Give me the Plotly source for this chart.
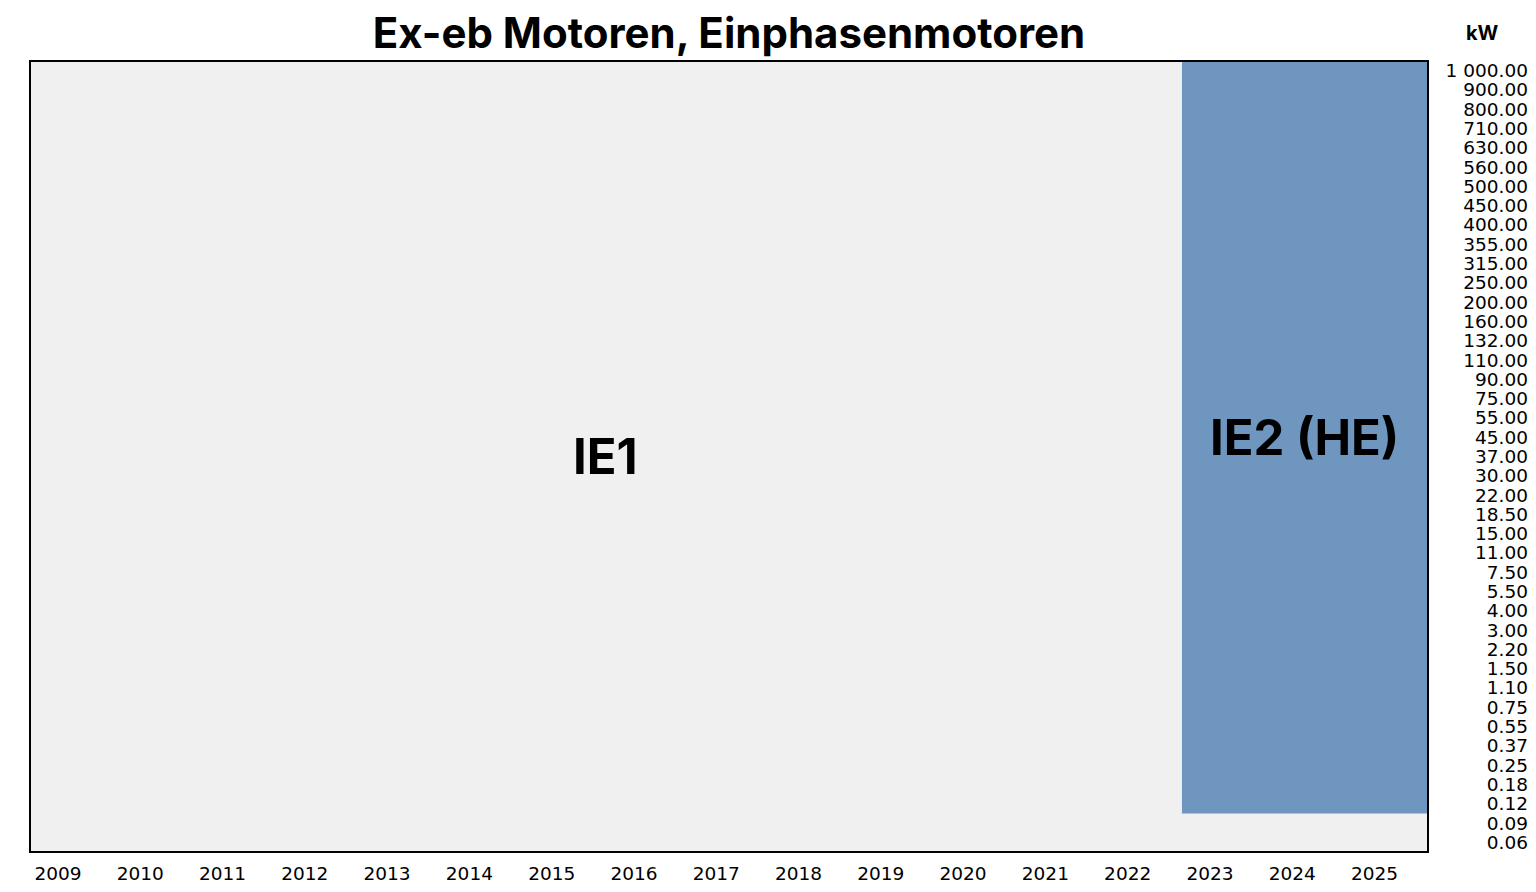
import plotly.graph_objects as go

# kW power classes shown on the right axis (bottom to top)
kw_classes = [0.06, 0.09, 0.12, 0.18, 0.25, 0.37, 0.55, 0.75, 1.10, 1.50,
              2.20, 3.00, 4.00, 5.50, 7.50, 11.00, 15.00, 18.50, 22.00, 30.00,
              37.00, 45.00, 55.00, 75.00, 90.00, 110.00, 132.00, 160.00, 200.00, 250.00,
              315.00, 355.00, 400.00, 450.00, 500.00, 560.00, 630.00, 710.00, 800.00, 900.00,
              1000.00]
years = list(range(2009, 2026))

# efficiency zones: name, time span (decimal years), kW span
zone_names = ["IE1", "IE2 (HE)"]
zone_start = [2008.66, 2022.66]
zone_end = [2025.65, 2025.65]
zone_kw_min = [0.06, 0.12]
zone_kw_max = [1000.00, 1000.00]
zone_colors = ["#f0f0f0", "#6f96bf"]

kw_labels = [f"{v:,.2f}".replace(",", " ") for v in kw_classes]
kw_index = list(range(len(kw_classes)))

fig = go.Figure()
for i, name in enumerate(zone_names):
    lo = kw_classes.index(zone_kw_min[i]) - 0.5
    hi = kw_classes.index(zone_kw_max[i]) + 0.5
    x0, x1 = zone_start[i], zone_end[i]
    fig.add_trace(go.Scatter(
        x=[x0, x1, x1, x0, x0], y=[lo, lo, hi, hi, lo],
        fill="toself", fillcolor=zone_colors[i], mode="lines",
        line=dict(width=0), name=name, hoverinfo="name", showlegend=False))
    # label centred in the visible part of the zone
    vis_end = zone_start[i + 1] if i + 1 < len(zone_names) else x1
    fig.add_annotation(x=(x0 + vis_end) / 2, y=(lo + hi) / 2, text=f"<b>{name}</b>",
                       showarrow=False, xanchor="center", yanchor="middle",
                       font=dict(family="Inter", size=49, color="black"))

# page body has an 8px margin, so the figure div is about 1520 x 876
dom_right = (1428 - 30) / (1528 - 30)

fig.update_layout(
    margin=dict(l=22, r=0, t=53, b=32),
    paper_bgcolor="white", plot_bgcolor="#f0f0f0",
    title=dict(text="<b>Ex-eb Motoren, Einphasenmotoren</b>",
               x=dom_right / 2, xref="paper", xanchor="center",
               y=1 - 25 / 876, yref="container", yanchor="middle",
               font=dict(family="Inter", size=42, color="black")),
    xaxis=dict(domain=[0, dom_right], range=[zone_start[0], zone_end[0]],
               tickvals=years, ticktext=[str(y) for y in years],
               showgrid=False, zeroline=False, ticks="", ticklabelstandoff=8,
               tickfont=dict(family="DejaVu Sans", size=18.5, color="black")),
    yaxis=dict(range=[-0.5, len(kw_classes) - 0.5], tickvals=kw_index, ticktext=kw_labels,
               anchor="free", position=1, side="left", autoshift=False,
               showgrid=False, zeroline=False, showline=False, ticks="",
               ticklabelstandoff=0,
               tickfont=dict(family="DejaVu Sans", size=18.5, color="black")),
)

fig.add_shape(type="rect", xref="x domain", yref="y domain", x0=0, x1=1, y0=0, y1=1,
              line=dict(color="black", width=2), fillcolor="rgba(0,0,0,0)")
fig.add_annotation(xref="paper", yref="paper", x=(1482 - 30) / 1498, y=1 + 28 / 791,
                   text="<b>kW</b>", showarrow=False, xanchor="center", yanchor="middle",
                   font=dict(family="Inter", size=20, color="black"))

fig.write_html("out.html")
